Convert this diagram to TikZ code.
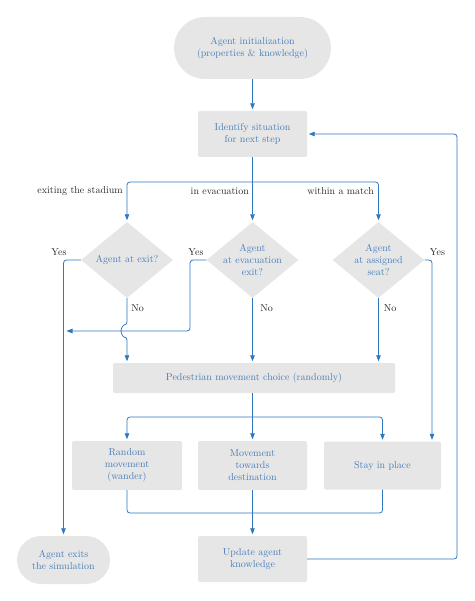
\documentclass[tikz,border=0pt]{standalone}
\usetikzlibrary{shapes.geometric,shapes.misc,arrows.meta}
\definecolor{flowblue}{RGB}{45,120,190}
\definecolor{textblue}{RGB}{70,125,185}
\definecolor{boxgray}{RGB}{230,230,230}
\begin{document}
\begin{tikzpicture}[x=1pt,y=1pt]
\tikzstyle{every node}+=[inner sep=0pt]
\tikzstyle{box}=[rectangle,rounded corners=2pt,fill=boxgray,text=textblue,align=center,minimum width=109pt,minimum height=46pt]
\tikzstyle{pill}=[rounded rectangle,fill=boxgray,text=textblue,align=center]
\tikzstyle{test}=[diamond,fill=boxgray,minimum width=92pt,minimum height=76pt]
\tikzstyle{testtext}=[text=textblue,align=center]
\tikzstyle{line}=[flowblue,line width=0.8pt,rounded corners=3pt]
\tikzstyle{arrow}=[line,-{Triangle[width=4.5pt,length=6pt]},shorten >=1.5pt]
\tikzstyle{lab}=[text=black!85]
\useasboundingbox (0,0) rectangle (474,-601);
\node[pill,minimum width=157pt,minimum height=62pt] (init) at (252.5,-48) {Agent initialization\\(properties \& knowledge)};
\node[box] (ident) at (252.5,-134) {Identify situation\\for next step};
\node[test,label={[testtext]center:{Agent at exit?}}] (exit1) at (127,-260) {};
\node[test,label={[testtext]center:{Agent\\at evacuation\\exit?}}] (exit2) at (252.5,-260) {};
\node[test,label={[testtext]center:{Agent\\at assigned\\seat?}}] (seat) at (378.5,-260) {};
\node[box,minimum width=282pt,minimum height=30pt] (choice) at (254,-378) {Pedestrian movement choice (randomly)};
\node[box,minimum width=110pt,minimum height=49pt] (wander) at (127,-465.5) {Random\\movement\\(wander)};
\node[box,minimum height=49pt] (towards) at (252.5,-465.5) {Movement\\towards\\destination};
\node[box,minimum width=117pt,minimum height=48pt] (stay) at (382.5,-465.5) {Stay in place};
\node[box] (update) at (252.5,-559) {Update agent\\knowledge};
\node[pill,minimum width=93pt,minimum height=48pt] (leave) at (63.5,-560) {Agent exits\\the simulation};
\node[lab,anchor=east] (l1) at (123,-191) {exiting the stadium};
\node[lab,anchor=east] (l2) at (249,-191) {in evacuation};
\node[lab,anchor=east] (l3) at (374,-191) {within a match};
\node[lab] (y1) at (59,-252) {Yes};
\node[lab] (y2) at (196,-252) {Yes};
\node[lab] (y3) at (437.5,-252) {Yes};
\node[lab] (n1) at (137.5,-308) {No};
\node[lab] (n2) at (266.5,-308) {No};
\node[lab] (n3) at (390,-308) {No};
\coordinate (split) at (252.5,-182);
\coordinate (bend) at (190,-331);
\coordinate (split2) at (252.5,-417);
\coordinate (merge) at (252.5,-513);
\coordinate (back) at (457,-134);
\draw[arrow] (init) -- (ident);
\draw[line] (ident) -- (split);
\draw[arrow] (split) -| (exit1);
\draw[arrow] (split) -- (exit2);
\draw[arrow] (split) -| (seat);
\draw[arrow] (exit1.west) -| (leave);
\draw[arrow,shorten >=3pt] (exit2.west) -| (bend) -- (leave |- bend);
\draw[arrow] (exit1.south) -- (127,-325) arc (90:270:6) -- (exit1 |- choice.north);
\draw[arrow] (exit2.south) -- (exit2 |- choice.north);
\draw[arrow] (seat.south) -- (seat |- choice.north);
\draw[arrow] (seat.east) -| ([xshift=49.5pt]stay.north);
\draw[line] (towards |- choice.south) -- (split2);
\draw[arrow] (split2) -| (wander);
\draw[arrow] (split2) -- (towards);
\draw[arrow] (split2) -| (stay);
\draw[line] (wander) |- (merge);
\draw[line] (stay) |- (merge);
\draw[arrow] (towards) -- (update);
\draw[arrow] (update.east) -| (back) -- (ident.east);
\end{tikzpicture}
\end{document}
